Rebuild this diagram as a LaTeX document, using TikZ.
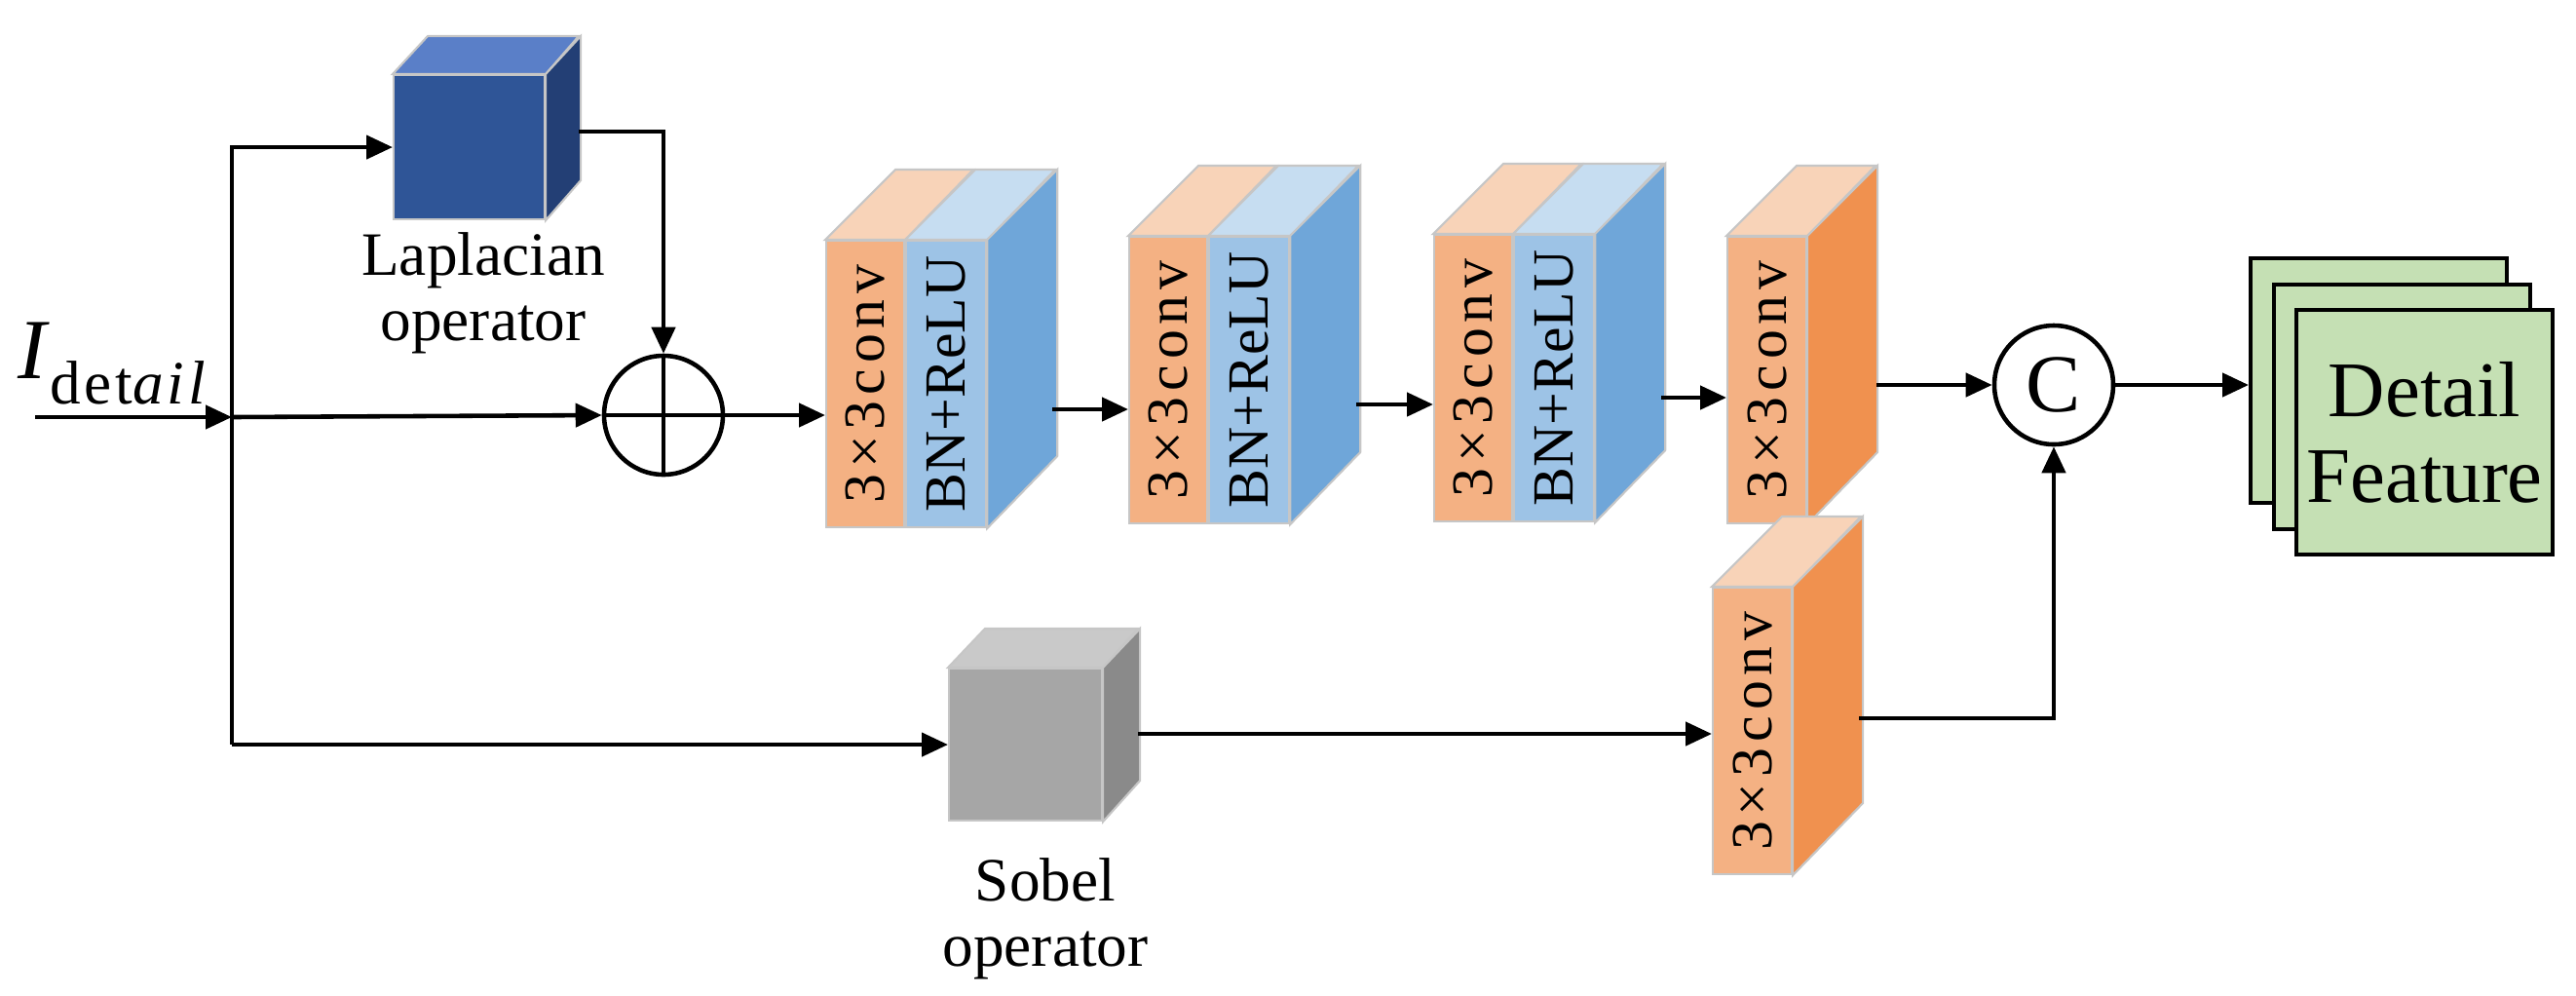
\documentclass[tikz,border=0pt]{standalone}
\usepackage{fontspec}
\setmainfont{Liberation Serif}
\usetikzlibrary{arrows.meta,calc}
\definecolor{ofront}{HTML}{F4B183}
\definecolor{otop}{HTML}{F8D3B8}
\definecolor{oside}{HTML}{F0914F}
\definecolor{bfront}{HTML}{9DC3E6}
\definecolor{btop}{HTML}{C6DDF1}
\definecolor{bside}{HTML}{6FA6D9}
\definecolor{lfront}{HTML}{2F5597}
\definecolor{ltop}{HTML}{5A7FC8}
\definecolor{lside}{HTML}{233F75}
\definecolor{sfront}{HTML}{A6A6A6}
\definecolor{stop}{HTML}{C9C9C9}
\definecolor{sside}{HTML}{8A8A8A}
\definecolor{gfill}{HTML}{C5E0B4}
\tikzset{
 face/.style={draw=gray!45,line width=0.6pt},
 strip/.style={face,inner sep=0pt,minimum height=2.94cm,anchor=north west,font=\fontsize{17}{17}\selectfont},
 arr/.style={line width=1.3pt,-{Triangle[length=0.27cm,width=0.24cm]}},
 ln/.style={line width=1.3pt},
 lbl/.style={align=center,font=\fontsize{18}{19}\selectfont},
 feat/.style={draw=black,line width=1.2pt,fill=gfill,minimum width=2.63cm,minimum height=2.51cm,inner sep=0pt}
}
\newcommand\convtxt{\rotatebox{90}{\addfontfeatures{LetterSpace=10}3×3conv}}
\newcommand\convbn[3]{%
 \node[strip,fill=ofront,minimum width=0.8cm] (#1a) at (#2,#3) {\convtxt};
 \node[strip,fill=bfront,minimum width=0.82cm] (#1b) at (#1a.north east) {\rotatebox{90}{BN+ReLU}};
 \fill[otop,face] (#1a.north west) -- ++(0.72,0.72) -- ++(0.8,0) -- (#1a.north east) -- cycle;
 \fill[btop,face] (#1b.north west) -- ++(0.72,0.72) -- ++(0.82,0) -- (#1b.north east) -- cycle;
 \fill[bside,face] (#1b.north east) -- ++(0.72,0.72) -- ++(0,-2.94) -- (#1b.south east) -- cycle;
}
\newcommand\convo[3]{%
 \node[strip,fill=ofront,minimum width=0.81cm] (#1a) at (#2,#3) {\convtxt};
 \fill[otop,face] (#1a.north west) -- ++(0.72,0.72) -- ++(0.81,0) -- (#1a.north east) -- cycle;
 \fill[oside,face] (#1a.north east) -- ++(0.72,0.72) -- ++(0,-2.94) -- (#1a.south east) -- cycle;
}
\begin{document}
\begin{tikzpicture}
\useasboundingbox (0,0) rectangle (26.44,-10.21);
% Laplacian cube
\node[face,fill=lfront,minimum width=1.55cm,minimum height=1.48cm,inner sep=0,anchor=north west] (lap) at (4.03,-0.76) {};
\fill[ltop,face] (lap.north west) -- ++(0.36,0.39) -- ++(1.55,0) -- (lap.north east) -- cycle;
\fill[lside,face] (lap.north east) -- ++(0.36,0.39) -- ++(0,-1.48) -- (lap.south east) -- cycle;
\node[lbl,anchor=north] (laplbl) at (4.96,-2.26) {Laplacian\\operator};
% Sobel cube
\node[face,fill=sfront,minimum width=1.57cm,minimum height=1.56cm,inner sep=0,anchor=north west] (sob) at (9.73,-6.85) {};
\fill[stop,face] (sob.north west) -- ++(0.38,0.40) -- ++(1.57,0) -- (sob.north east) -- cycle;
\fill[sside,face] (sob.north east) -- ++(0.38,0.40) -- ++(0,-1.56) -- (sob.south east) -- cycle;
\node[lbl,anchor=north] (soblbl) at (10.73,-8.68) {Sobel\\operator};
% conv blocks
\convbn{b1}{8.47}{-2.46}
\convbn{b2}{11.58}{-2.42}
\convbn{b3}{14.71}{-2.40}
\convo{b4}{17.72}{-2.42}
\convo{b5}{17.57}{-6.02}
% oplus and C
\node[circle,draw,line width=1.3pt,minimum size=1.22cm,inner sep=0] (op) at (6.81,-4.26) {};
\draw[line width=1.3pt] (op.north) -- (op.south) (op.west) -- (op.east);
\node[circle,draw,line width=1.3pt,minimum size=1.22cm,inner sep=0,font=\fontsize{24}{24}\selectfont] (C) at (21.08,-3.95) {C};
% feature stack
\node[feat,anchor=north west] (f1) at (23.08,-2.63) {};
\node[feat,anchor=north west] (f2) at (23.32,-2.90) {};
\node[feat,anchor=north west,align=center,font=\fontsize{23}{25}\selectfont] (f3) at (23.55,-3.16) {Detail\\Feature};
% input
\node[anchor=base west,inner sep=0,font=\fontsize{25}{25}\selectfont] (inp) at (0.18,-3.88) {\textit{I}\raisebox{-0.3em}{\fontsize{18}{18}\selectfont\addfontfeatures{LetterSpace=6}det\textit{ail}}};
\coordinate (start) at (0.36,-4.28);
\coordinate (J) at (2.38,-4.28);
\coordinate (lapout) at (5.94,-1.35);
\coordinate (o1) at (10.80,-4.20);
\coordinate (o2) at (13.92,-4.15);
\coordinate (o3) at (17.05,-4.08);
\coordinate (o4) at (19.26,-3.95);
\coordinate (sobout) at (11.68,-7.53);
\coordinate (o5) at (19.08,-7.37);
% connectors
\draw[arr] (start) -- (J);
\draw[arr] (J) -- (op.west);
\draw[arr] (J) |- (lap.west);
\draw[ln] (J) -- (J |- sob.west);
\draw[arr] (J |- sob.west) -- (sob.west);
\draw[arr] (lapout) -| (op.north);
\draw[arr] (op.east) -- (op.east -| b1a.west);
\draw[arr] (o1) -- (o1 -| b2a.west);
\draw[arr] (o2) -- (o2 -| b3a.west);
\draw[arr] (o3) -- (o3 -| b4a.west);
\draw[arr] (o4) -- (C.west);
\draw[arr] (sobout) -- (sobout -| b5a.west);
\draw[arr] (o5) -| (C.south);
\draw[arr] (C.east) -- (C.east -| f1.west);
\end{tikzpicture}
\end{document}
